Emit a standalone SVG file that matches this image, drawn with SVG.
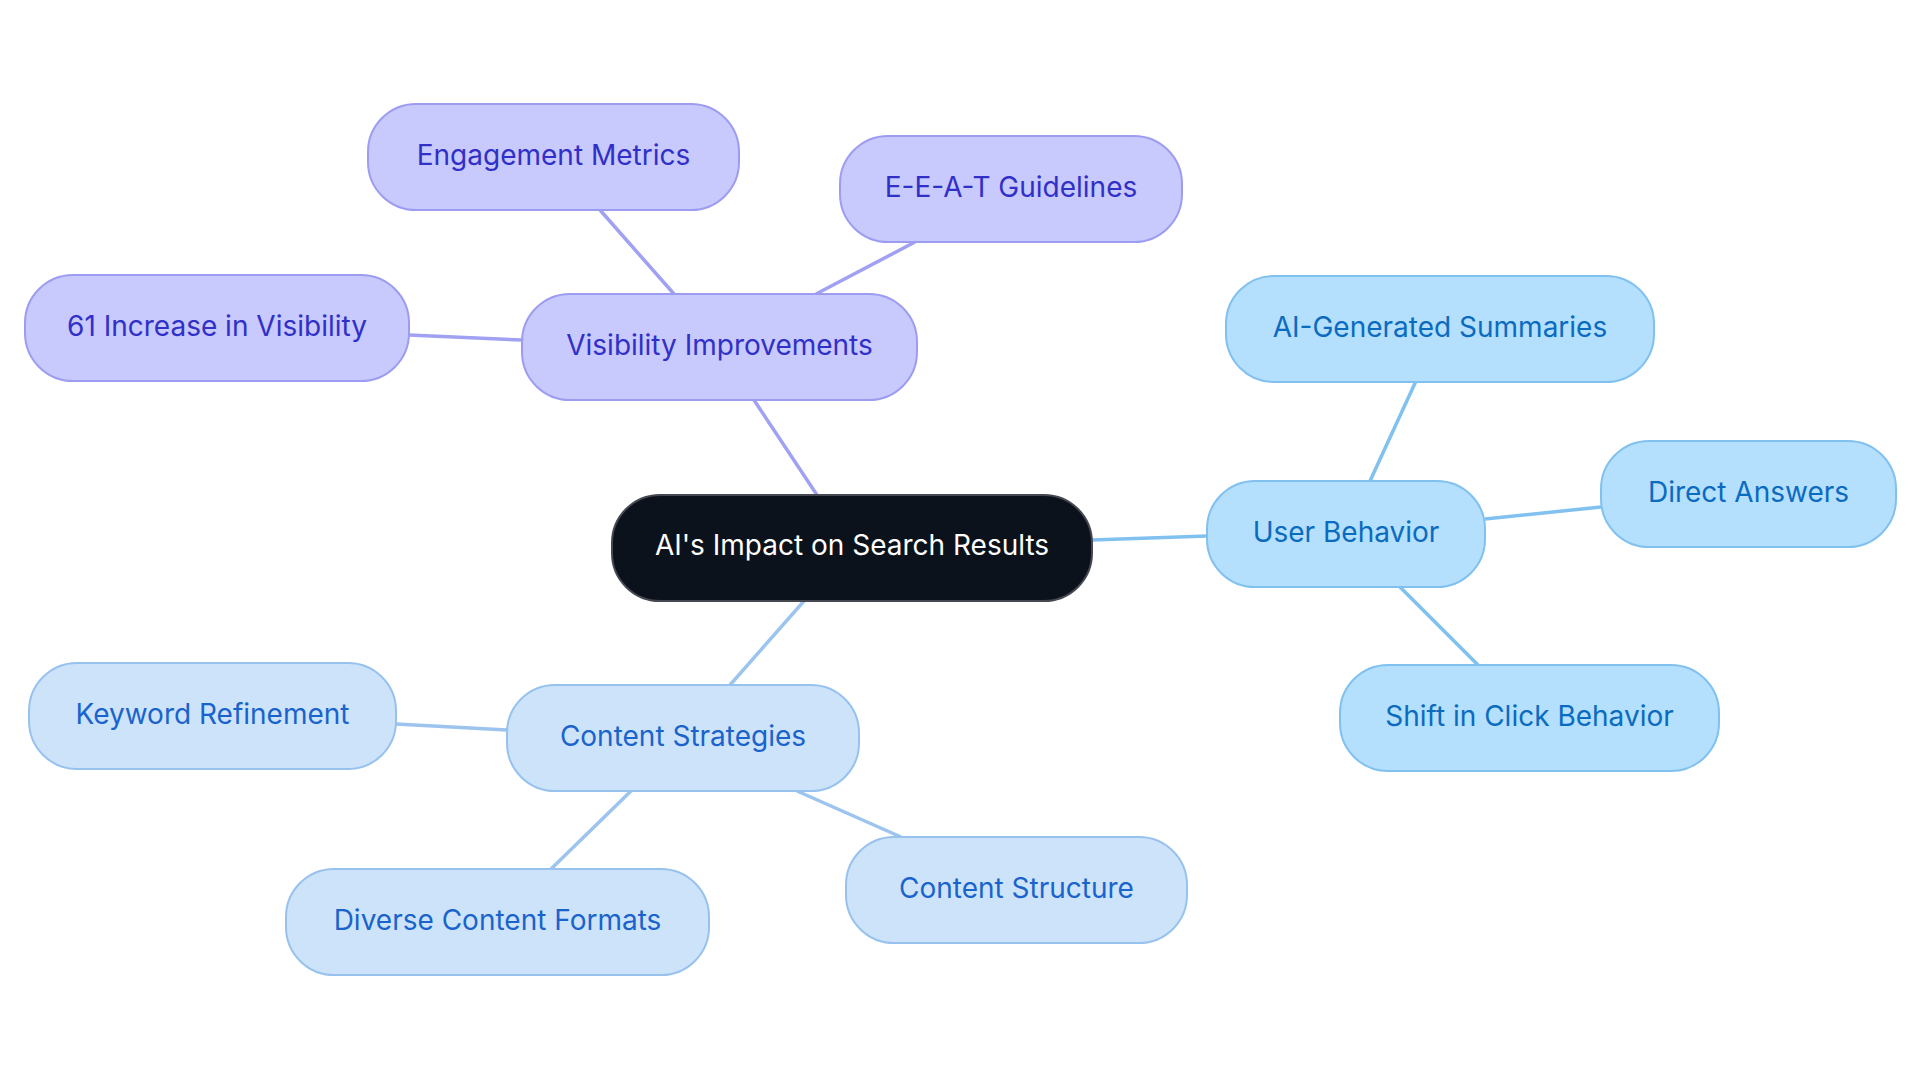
<svg xmlns="http://www.w3.org/2000/svg" width="1920" height="1083" viewBox="0 0 1920 1083">
<style>
text{font-family:Inter,"Noto Sans","Liberation Sans",sans-serif;font-size:28px;text-anchor:middle;dominant-baseline:central}
.p rect{fill:#C8C9FC;stroke:#9C9DF0;stroke-width:2}
.p text{fill:#3030C8}
.b rect{fill:#B4DFFD;stroke:#80C1F0;stroke-width:2}
.b text{fill:#0A6BBF}
.c rect{fill:#CDE3FA;stroke:#98C2EE;stroke-width:2}
.c text{fill:#1A63CC}
.pl{stroke:#A0A1F2;stroke-width:3.5;fill:none}
.bl{stroke:#80C1F0;stroke-width:3.5;fill:none}
.cl{stroke:#9CC4EE;stroke-width:3.5;fill:none}
</style>
<rect width="1920" height="1083" fill="#ffffff"/>
<g id="connectors">
<line class="pl" x1="817" y1="495" x2="754" y2="400"/>
<line class="pl" x1="674" y1="294" x2="600" y2="210"/>
<line class="pl" x1="816" y1="294" x2="915" y2="242"/>
<line class="pl" x1="522" y1="340" x2="409" y2="335"/>
<line class="bl" x1="1092" y1="540" x2="1207" y2="536"/>
<line class="bl" x1="1370" y1="481" x2="1416" y2="381"/>
<line class="bl" x1="1485" y1="519" x2="1601" y2="507"/>
<line class="bl" x1="1400" y1="587" x2="1478" y2="665"/>
<line class="cl" x1="804" y1="601" x2="730" y2="685"/>
<line class="cl" x1="507" y1="730" x2="396" y2="724"/>
<line class="cl" x1="631" y1="791" x2="551" y2="869"/>
<line class="cl" x1="797" y1="791" x2="901" y2="837"/>
</g>
<g id="center">
<rect x="612" y="495" width="480" height="106" rx="48" fill="#0C121C" stroke="#454850" stroke-width="2"/>
<text x="852" y="545" fill="#ffffff">AI's Impact on Search Results</text>
</g>
<g id="visibility-improvements" class="p">
<rect x="522" y="294" width="395" height="106" rx="48"/>
<text x="719.5" y="345">Visibility Improvements</text>
</g>
<g id="engagement-metrics" class="p">
<rect x="368" y="104" width="371" height="106" rx="48"/>
<text x="553.5" y="155">Engagement Metrics</text>
</g>
<g id="eeat-guidelines" class="p">
<rect x="840" y="136" width="342" height="106" rx="48"/>
<text x="1011" y="187">E-E-A-T Guidelines</text>
</g>
<g id="increase-visibility" class="p">
<rect x="25" y="275" width="384" height="106" rx="48"/>
<text x="217" y="326">61 Increase in Visibility</text>
</g>
<g id="user-behavior" class="b">
<rect x="1207" y="481" width="278" height="106" rx="48"/>
<text x="1346" y="532">User Behavior</text>
</g>
<g id="ai-generated-summaries" class="b">
<rect x="1226" y="276" width="428" height="106" rx="48"/>
<text x="1440" y="327">AI-Generated Summaries</text>
</g>
<g id="direct-answers" class="b">
<rect x="1601" y="441" width="295" height="106" rx="48"/>
<text x="1748.5" y="492">Direct Answers</text>
</g>
<g id="shift-click-behavior" class="b">
<rect x="1340" y="665" width="379" height="106" rx="48"/>
<text x="1529.5" y="716">Shift in Click Behavior</text>
</g>
<g id="content-strategies" class="c">
<rect x="507" y="685" width="352" height="106" rx="48"/>
<text x="683" y="736">Content Strategies</text>
</g>
<g id="keyword-refinement" class="c">
<rect x="29" y="663" width="367" height="106" rx="48"/>
<text x="212.5" y="714">Keyword Refinement</text>
</g>
<g id="diverse-content-formats" class="c">
<rect x="286" y="869" width="423" height="106" rx="48"/>
<text x="497.5" y="920">Diverse Content Formats</text>
</g>
<g id="content-structure" class="c">
<rect x="846" y="837" width="341" height="106" rx="48"/>
<text x="1016.5" y="888">Content Structure</text>
</g>
</svg>
